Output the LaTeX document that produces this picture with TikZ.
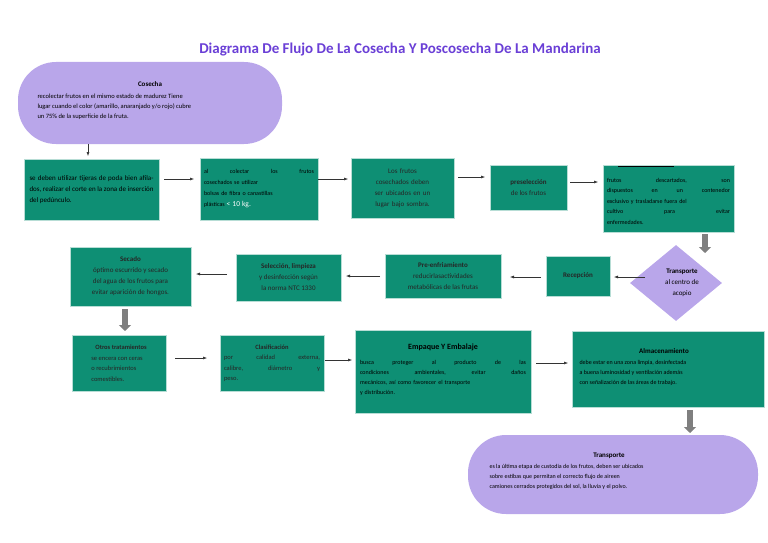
\documentclass[tikz,border=0pt]{standalone}
\usepackage{fontspec}
\setmainfont{Carlito}
\usetikzlibrary{shapes.geometric,arrows.meta}
\definecolor{gr}{HTML}{0E8F74}
\definecolor{pu}{HTML}{B9A6EA}
\definecolor{tt}{HTML}{6A3FD6}
\definecolor{ar}{HTML}{7F7F7F}
\tikzset{
 box/.style={draw=white!70!gr,line width=0.8pt,fill=gr,font=\fontsize{7}{11}\selectfont,text=black!85,inner sep=2pt},
 pill/.style={fill=pu,rounded corners=38pt,font=\fontsize{6.5}{11}\selectfont,text=black!90},
 con/.style={-{Latex[length=4pt,width=3pt]},line width=0.5pt,black!80},
 big/.style={-{Triangle[length=6pt,width=12pt]},line width=6pt,ar},
}
\begin{document}
\begin{tikzpicture}[x=1pt,y=-1pt]
\useasboundingbox (0,0) rectangle (768,543);
\node[font=\bfseries\fontsize{15}{18}\selectfont,text=tt] (title) at (400,50) {Diagrama De Flujo De La Cosecha Y Poscosecha De La Mandarina};
\fill[pill] (18,62) rectangle (282,144);
\node[font=\bfseries\fontsize{7}{9}\selectfont] (cos) at (150,84) {Cosecha};
\node[font=\fontsize{6.5}{10}\selectfont,align=left,anchor=north west] (costx) at (34,90) {recolectar frutos en el mismo estado de madurez Tiene\\lugar cuando el color (amarillo, anaranjado y/o rojo) cubre\\un 75\% de la superficie de la fruta.};
\coordinate (c1) at (88,144);
\node[box,minimum width=135pt,minimum height=61pt] (b1) at (91.5,189.5) {};
\node[font=\fontsize{7}{11}\selectfont,text width=124pt,align=justify] (b1t) at (91.5,189.5) {se deben utilizar tijeras de poda bien afilados, realizar el corte en la zona de inserción del pedúnculo.};
\node[box,minimum width=118pt,minimum height=62pt] (b2) at (259,189) {};
\node[font=\fontsize{6}{11}\selectfont,text width=110pt,align=left] (b2t) at (259,189) {al\hfill colectar\hfill los\hfill frutos\\cosechados se utilizar\\ bolsas de fibra o canastillas\\plásticas {\color{white}\fontsize{7.5}{11}\selectfont <~10~kg.}};
\node[box,minimum width=103pt,minimum height=60pt,align=center,text width=95pt] (b3) at (402.5,188) {Los frutos\\cosechados deben\\ser ubicados en un\\lugar bajo sombra.};
\node[box,minimum width=77pt,minimum height=45pt,align=center] (b4) at (528.5,187.5) {\textbf{preselección}\\de los frutos};
\node[box,minimum width=131pt,minimum height=67pt] (b5) at (668.5,198.5) {};
\node[font=\fontsize{6}{10.5}\selectfont,text width=123pt,align=left] (b5t) at (668.5,201) {frutos\hfill descartados,\hfill son\\dispuestos\hfill en\hfill un\hfill contenedor\\exclusivo y trasladarse fuera del\\cultivo\hfill para\hfill evitar\\enfermedades.};
\draw[black,line width=0.8pt] (618,166) -- (674,166);
\node[diamond,fill=pu,minimum width=92pt,minimum height=76pt,inner sep=0pt] (d) at (676,283) {};
\node[font=\fontsize{7}{11}\selectfont,align=center] (dt) at (682,283) {\textbf{Transporte}\\al centro de\\acopio};
\node[box,minimum width=64pt,minimum height=40pt] (rec) at (578,276) {\textbf{Recepción}};
\node[box,minimum width=116pt,minimum height=44pt,align=center] (pre) at (443,276) {\textbf{Pre-enfriamiento}\\reducir\hfill las\hfill actividades\\metabólicas de las frutas};
\node[box,minimum width=105pt,minimum height=47pt,align=center] (sel) at (288.5,277.5) {\textbf{Selección, limpieza}\\y desinfección según\\la norma NTC 1330};
\node[box,minimum width=121pt,minimum height=59pt,align=center] (sec) at (130.5,276.5) {\textbf{Secado}\\óptimo escurrido y secado\\del agua de los frutos para\\evitar aparición de hongos.};
\node[box,minimum width=94pt,minimum height=56pt,font=\fontsize{6.5}{10.5}\selectfont,align=left] (otr) at (119,363) {\hspace*{4pt}\textbf{Otros tratamientos}\\se encera con ceras\\ o recubrimientos\\comestibles.};
\node[box,minimum width=104pt,minimum height=56pt,font=\fontsize{6.5}{10.5}\selectfont,text width=96pt,align=left] (cla) at (272,363) {\centering\textbf{Clasificación}\par por\hfill calidad\hfill externa,\\calibre,\hfill diámetro\hfill y\\peso.};
\node[box,minimum width=176pt,minimum height=83pt] (emp) at (443,371.5) {};
\node[font=\bfseries\fontsize{8}{10}\selectfont] (empt) at (443,347) {Empaque Y Embalaje};
\node[font=\fontsize{6}{10}\selectfont,text width=166pt,align=left] (empb) at (443,378) {busca\hfill proteger\hfill al\hfill producto\hfill de\hfill las\\condiciones\hfill ambientales,\hfill evitar\hfill daños\\mecánicos, así como favorecer el transporte\\y distribución.};
\node[box,minimum width=192pt,minimum height=76pt] (alm) at (668,369) {};
\node[font=\bfseries\fontsize{7}{9}\selectfont] (almt) at (664,351) {Almacenamiento};
\node[font=\fontsize{6}{10}\selectfont,align=left,anchor=north west] (almb) at (576,357) {debe estar en una zona limpia, desinfectada\\a buena luminosidad y ventilación además\\con señalización de las áreas de trabajo.};
\fill[pill] (468,435) rectangle (758,514);
\node[font=\bfseries\fontsize{7}{9}\selectfont] (trt) at (609,456) {Transporte};
\node[font=\fontsize{6}{10}\selectfont,align=left,anchor=north west] (trb) at (486,461) {es la última etapa de custodia de los frutos, deben ser ubicados\\sobre estibas que permitan el correcto flujo de aireen\\camiones cerrados protegidos del sol, la lluvia y el polvo.};
\coordinate (tp) at (690,433);
% connectors
\draw[con] (c1) -- (88,156);
\draw[con] (164,179) -- (194,179);
\draw[con] (318,179) -- (348,179);
\draw[con] (458,177) -- (485,177);
\draw[con] (570,182) -- (598,182);
\draw[big] (705,234) -- (705,253);
\draw[con] (645,277) -- (614,277);
\draw[con] (541,277) -- (510,277);
\draw[con] (380,276) -- (346,276);
\draw[con] (227,274) -- (196,274);
\draw[big] (125,309) -- (125,331);
\draw[con] (175,358) -- (207,358);
\draw[con] (325,360) -- (352,360);
\draw[con] (536,363) -- (568,363);
\draw[big] (alm.south -| tp) ++(0,3) -- (tp);
\end{tikzpicture}
\end{document}
